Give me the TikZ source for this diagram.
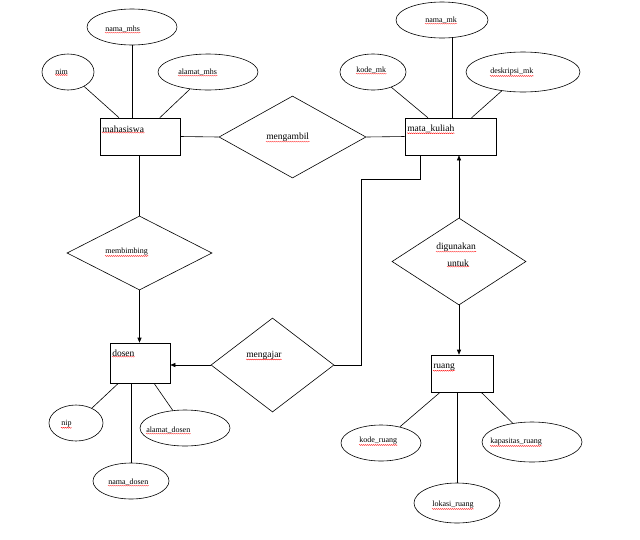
\documentclass[tikz,border=0pt]{standalone}
\usepackage{fontspec}
\setmainfont{Liberation Serif}
\usetikzlibrary{shapes.geometric,arrows.meta,decorations.pathmorphing}
\begin{document}
\begin{tikzpicture}[x=1pt,y=-1pt,line width=0.6pt,
  ent/.style={draw,rectangle,inner sep=0},
  attr/.style={draw,ellipse,inner sep=0},
  rel/.style={draw,diamond,inner sep=0},
  txt/.style={font=\fontsize{8}{9}\selectfont,inner sep=0},
  big/.style={font=\fontsize{9.5}{11}\selectfont,inner sep=0},
  sq/.style={red,line width=0.3pt,decorate,decoration={snake,amplitude=0.5pt,segment length=2pt}},
  arr/.style={-{Triangle[length=5pt,width=4pt]}}]
\useasboundingbox (0,0) rectangle (640,539);
% entities
\node[ent,minimum width=80,minimum height=37] (mhs) at (140,136.5) {};
\node[ent,minimum width=91,minimum height=37] (mk) at (450.5,136.5) {};
\node[ent,minimum width=60,minimum height=40] (dos) at (140,363) {};
\node[ent,minimum width=62,minimum height=37] (ru) at (462,373.5) {};
% relationships
\node[rel,minimum width=147,minimum height=82] (ambil) at (292.5,137) {};
\node[rel,minimum width=145,minimum height=74] (bimb) at (139.5,253) {};
\node[rel,minimum width=123,minimum height=94] (ajar) at (272.5,365) {};
\node[rel,minimum width=134,minimum height=87] (guna) at (459,261.5) {};
% attributes
\node[attr,minimum width=52,minimum height=36] (nim) at (68,72) {};
\node[attr,minimum width=90,minimum height=36] (nmhs) at (132,27) {};
\node[attr,minimum width=100,minimum height=36] (amhs) at (208,72) {};
\node[attr,minimum width=66,minimum height=36] (kmk) at (373,72) {};
\node[attr,minimum width=92,minimum height=36] (nmk) at (442,20) {};
\node[attr,minimum width=114,minimum height=40] (dmk) at (523,72) {};
\node[attr,minimum width=54,minimum height=36] (nip) at (76,423) {};
\node[attr,minimum width=90,minimum height=36] (ados) at (185,428) {};
\node[attr,minimum width=76,minimum height=36] (ndos) at (131,481) {};
\node[attr,minimum width=80,minimum height=36] (kru) at (381,443) {};
\node[attr,minimum width=86,minimum height=40] (lru) at (457,503) {};
\node[attr,minimum width=100,minimum height=40] (kapru) at (532,442) {};
% texts
\foreach \n/\p/\t in {a/{(102,129)}/mahasiswa, b/{(407,129)}/mata\_kuliah, c/{(112,353)}/dosen, d/{(433,367)}/ruang,
  e/{(266,137)}/mengambil, g/{(246,355)}/mengajar, g1/{(436,247)}/digunakan, g2/{(447,263)}/untuk} {
  \node[big,anchor=west] (t\n) at \p {\t};
  \draw[sq] (t\n.south west) -- (t\n.south east);
}
\foreach \n/\p/\t in {f/{(105,252)}/membimbing,
  h/{(55,72)}/nim, i/{(105,29)}/nama\_mhs, j/{(178,72)}/alamat\_mhs,
  k/{(356,70)}/kode\_mk, l/{(425,20)}/nama\_mk, m/{(490,72)}/deskripsi\_mk,
  n/{(61,424)}/nip, o/{(146,430)}/alamat\_dosen, p/{(108,482)}/nama\_dosen,
  q/{(359,441)}/kode\_ruang, r/{(432,505)}/lokasi\_ruang, s/{(490,442)}/kapasitas\_ruang} {
  \node[txt,anchor=west] (t\n) at \p {\t};
  \draw[sq] (t\n.south west) -- (t\n.south east);
}
% attribute lines
\draw (nim) -- (mhs);
\draw (nmhs.south) -- (nmhs.south |- mhs.north);
\draw (amhs) -- (mhs);
\draw (kmk) -- (mk);
\draw (452,38) coordinate (c3) -- (c3 |- mk.north);
\draw (dmk) -- (mk);
\draw (nip) -- (dos);
\draw (ados) -- (dos);
\draw (ndos.north) -- (ndos.north |- dos.south);
\draw (kru) -- (ru);
\draw (lru.north) -- (lru.north |- ru.south);
\draw (kapru) -- (ru);
% relationship lines
\draw (mhs.east) -- (ambil.west);
\draw (ambil.east) -- (mk.west);
\draw (mhs.south -| bimb.north) -- (bimb.north);
\draw[arr] (bimb.south) -- (bimb.south |- dos.north);
\draw[arr] (ajar.west) -- (ajar.west -| dos.east);
\draw (ajar.east) -- ++(27,0) coordinate (c4) -- (c4 |- 0,179) coordinate (c5) -- (420,179) coordinate (c6) -- (c6 |- mk.south);
\draw[arr] (guna.north) -- (guna.north |- mk.south);
\draw[arr] (guna.south) -- (guna.south |- ru.north);
\end{tikzpicture}
\end{document}
